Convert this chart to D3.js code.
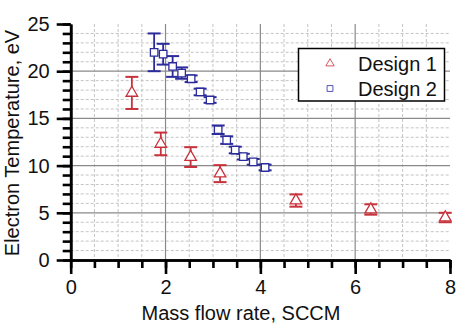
<!DOCTYPE html>
<html>
<head>
<meta charset="utf-8">
<script src="https://cdn.jsdelivr.net/npm/d3@7"></script>
<style>
  html, body { margin: 0; padding: 0; background: #fff; }
  svg { display: block; font-family: "Liberation Sans", Arial, sans-serif; }
</style>
</head>
<body>
<svg id="chart" width="474" height="332"></svg>
<script>
// Design 1 measurements: flow rate (SCCM), electron temperature (eV), error
const design1Flow = [1.29, 1.90, 2.53, 3.15, 4.75, 6.33, 7.90];
const design1Te   = [17.7, 12.3, 10.9, 9.15, 6.3, 5.35, 4.5];
const design1Err  = [1.7, 1.2, 1.05, 0.9, 0.65, 0.55, 0.5];

// Design 2 measurements
const design2Flow = [1.76, 1.95, 2.15, 2.34, 2.54, 2.73, 2.94, 3.11, 3.29, 3.47, 3.64, 3.85, 4.10];
const design2Te   = [22.0, 21.8, 20.5, 19.8, 19.2, 17.8, 16.95, 13.8, 12.7, 11.65, 10.95, 10.4, 9.8];
const design2Err  = [2.0, 1.1, 1.1, 0.6, 0.35, 0.35, 0.3, 0.45, 0.4, 0.35, 0.3, 0.3, 0.3];

const xMajorTicks = [0, 2, 4, 6, 8];
const yMajorTicks = [0, 5, 10, 15, 20, 25];
const seriesNames = ["Design 1", "Design 2"];

const red = "#c8323c", blue = "#2b2b9b";

const svg = d3.select("#chart");
const plotLeft = 70.7, plotRight = 450, plotTop = 24, plotBottom = 260;

const x = d3.scaleLinear().domain([0, 8]).range([plotLeft, plotRight]);
const y = d3.scaleLinear().domain([0, 25]).range([plotBottom, plotTop]);

const xMinor = d3.range(0, 8.01, 0.5);
const yMinor = d3.range(0, 25.01, 1);

// grid: dashed minor lines, solid major lines
const grid = svg.append("g");
grid.selectAll(".vminor").data(xMinor.filter(v => v > 0 && v < 8 && v % 2 !== 0))
  .join("line")
  .attr("x1", d => x(d)).attr("x2", d => x(d))
  .attr("y1", plotTop).attr("y2", plotBottom)
  .attr("stroke", "#c4c4c4").attr("stroke-width", 1).attr("stroke-dasharray", "3,2");
grid.selectAll(".hminor").data(yMinor.filter(v => v > 0 && v < 25 && v % 5 !== 0))
  .join("line")
  .attr("x1", plotLeft).attr("x2", plotRight)
  .attr("y1", d => y(d)).attr("y2", d => y(d))
  .attr("stroke", "#c4c4c4").attr("stroke-width", 1).attr("stroke-dasharray", "3,2");
grid.selectAll(".vmajor").data(xMajorTicks.filter(v => v > 0 && v < 8))
  .join("line")
  .attr("x1", d => x(d)).attr("x2", d => x(d))
  .attr("y1", plotTop).attr("y2", plotBottom)
  .attr("stroke", "#8a8a8a").attr("stroke-width", 1.2);
grid.selectAll(".hmajor").data(yMajorTicks.filter(v => v > 0 && v < 25))
  .join("line")
  .attr("x1", plotLeft).attr("x2", plotRight)
  .attr("y1", d => y(d)).attr("y2", d => y(d))
  .attr("stroke", "#8a8a8a").attr("stroke-width", 1.2);

// axes
function styleAxis(g) {
  g.selectAll("path.domain").attr("stroke", "#000").attr("stroke-width", 2.6);
  g.selectAll(".tick line").attr("stroke", "#000").attr("stroke-width", 2.6);
  g.selectAll(".tick text").attr("fill", "#111").style("font-size", "20px")
    .style("font-family", "'Liberation Sans', Arial, sans-serif");
}

svg.append("g").attr("transform", `translate(0,${plotBottom})`)
  .call(d3.axisBottom(x).tickValues(xMinor).tickSize(8).tickSizeOuter(0).tickFormat(""))
  .call(styleAxis);
svg.append("g").attr("transform", `translate(0,${plotBottom})`)
  .call(d3.axisBottom(x).tickValues(xMajorTicks).tickSize(14).tickSizeOuter(0).tickPadding(6).tickFormat(d3.format("d")))
  .call(styleAxis);

svg.append("g").attr("transform", `translate(${plotLeft},0)`)
  .call(d3.axisLeft(y).tickValues(yMinor).tickSize(8).tickSizeOuter(0).tickFormat(""))
  .call(styleAxis);
svg.append("g").attr("transform", `translate(${plotLeft},0)`)
  .call(d3.axisLeft(y).tickValues(yMajorTicks).tickSize(14).tickSizeOuter(0).tickPadding(7).tickFormat(d3.format("d")))
  .call(styleAxis);

// axis titles
svg.append("text")
  .attr("x", 241).attr("y", 320)
  .attr("text-anchor", "middle")
  .attr("fill", "#111").style("font-size", "20px")
  .text("Mass flow rate, SCCM");
svg.append("text")
  .attr("transform", "translate(19,143) rotate(-90)")
  .attr("text-anchor", "middle")
  .attr("fill", "#111").style("font-size", "20px")
  .text("Electron Temperature, eV");

// error bars + markers
const cap = 6.5;
function drawSeries(flow, te, err, color, shape) {
  const data = flow.map((f, i) => ({ f, t: te[i], e: err[i] }));
  const g = svg.append("g");
  const eb = g.selectAll("g.eb").data(data).join("g");
  eb.append("line")
    .attr("x1", d => x(d.f)).attr("x2", d => x(d.f))
    .attr("y1", d => y(d.t + d.e)).attr("y2", d => y(d.t - d.e))
    .attr("stroke", color).attr("stroke-width", 1.8);
  eb.append("line")
    .attr("x1", d => x(d.f) - cap).attr("x2", d => x(d.f) + cap)
    .attr("y1", d => y(d.t + d.e)).attr("y2", d => y(d.t + d.e))
    .attr("stroke", color).attr("stroke-width", 2);
  eb.append("line")
    .attr("x1", d => x(d.f) - cap).attr("x2", d => x(d.f) + cap)
    .attr("y1", d => y(d.t - d.e)).attr("y2", d => y(d.t - d.e))
    .attr("stroke", color).attr("stroke-width", 2);
  g.selectAll("path.m").data(data).join("path")
    .attr("d", d3.symbol().type(shape).size(shape === d3.symbolTriangle ? 58 : 56))
    .attr("transform", d => `translate(${x(d.f)},${y(d.t)})`)
    .attr("fill", "#fff").attr("stroke", color).attr("stroke-width", 1.3);
}
drawSeries(design1Flow, design1Te, design1Err, red, d3.symbolTriangle);
drawSeries(design2Flow, design2Te, design2Err, blue, d3.symbolSquare);

// legend
const lg = svg.append("g");
lg.append("rect").attr("x", 298.5).attr("y", 48.5).attr("width", 146).attr("height", 52.5)
  .attr("fill", "#fff").attr("stroke", "#000").attr("stroke-width", 1.5);
const legendItems = [
  { name: seriesNames[0], color: red, shape: d3.symbolTriangle, size: 30 },
  { name: seriesNames[1], color: blue, shape: d3.symbolSquare, size: 34 }
];
legendItems.forEach((it, i) => {
  const cy = 63.5 + i * 25;
  lg.append("path")
    .attr("d", d3.symbol().type(it.shape).size(it.size))
    .attr("transform", `translate(330,${cy})`)
    .attr("fill", "none").attr("stroke", it.color).attr("stroke-width", 1).attr("opacity", 0.8);
  lg.append("text").attr("x", 358).attr("y", cy + 7)
    .attr("fill", "#111").style("font-size", "20px")
    .text(it.name);
});
</script>
</body>
</html>
